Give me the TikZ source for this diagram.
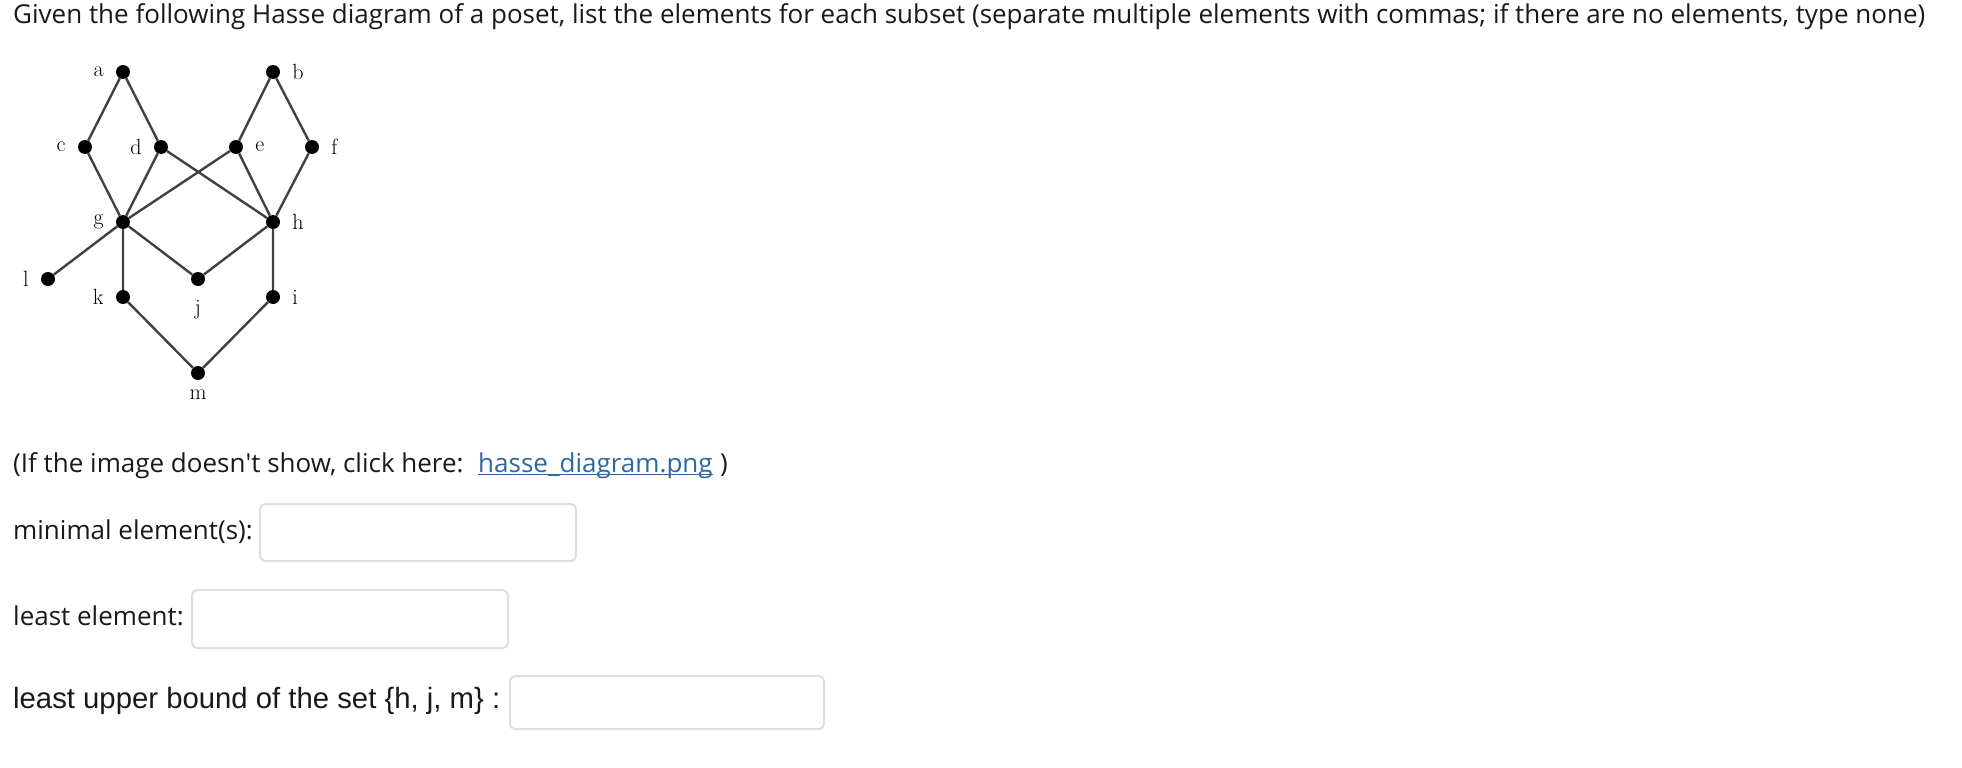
\documentclass[tikz,border=0pt]{standalone}
\usepackage{fontspec}
\setmainfont{Open Sans}
\newfontfamily\arialfont{Liberation Sans}
\definecolor{linkblue}{RGB}{45,105,160}
\definecolor{boxgray}{RGB}{222,222,222}
\definecolor{edgegray}{RGB}{65,65,65}
\definecolor{textblack}{RGB}{25,25,25}
\tikzset{
  vertex/.style={circle,fill=black,inner sep=0pt,minimum size=14pt},
  lbl/.style={font=\fontfamily{lmr}\fontsize{22}{22}\selectfont,inner sep=0pt,label distance=12pt},
  hasseline/.style={edgegray,line width=2.4pt},
  txt/.style={anchor=base west,inner sep=0pt,text=textblack,font=\fontsize{26}{30}\selectfont},
  answerbox/.style={draw=boxgray,line width=2pt,rounded corners=5pt,inner sep=0pt,anchor=north west}
}

\begin{document}
\begin{tikzpicture}[x=1pt,y=-1pt]
\useasboundingbox (0,0) rectangle (1962,768);

% the poset
\node[vertex,label={[lbl]left:a}] (a) at (123,72) {};
\node[vertex,label={[lbl]right:b}] (b) at (273,72) {};
\node[vertex,label={[lbl]left:c}] (c) at (85,147) {};
\node[vertex,label={[lbl]left:d}] (d) at (161,147) {};
\node[vertex,label={[lbl]right:e}] (e) at (236,147) {};
\node[vertex,label={[lbl]right:f}] (f) at (312,147) {};
\node[vertex,label={[lbl]left:g}] (g) at (123,222) {};
\node[vertex,label={[lbl]right:h}] (h) at (273,222) {};
\node[vertex,label={[lbl]left:l}] (l) at (48,279) {};
\node[vertex,label={[lbl,label distance=14pt]below:j}] (j) at (198,279) {};
\node[vertex,label={[lbl,label distance=9pt]below:m}] (m) at (198,373) {};
\node[vertex,label={[lbl]left:k}] (k) at (123,297) {};
\node[vertex,label={[lbl]right:i}] (i) at (273,297) {};

\draw[hasseline] (a)--(c) (a)--(d) (b)--(e) (b)--(f);
\draw[hasseline] (c)--(g) (d)--(g) (e)--(g) (d)--(h) (e)--(h) (f)--(h);
\draw[hasseline] (g)--(l) (g)--(k) (g)--(j) (h)--(j) (h)--(i);
\draw[hasseline] (k)--(m) (i)--(m);

% question text
\node[txt] (title) at (13,24)
  {Given the following Hasse diagram of a poset, list the elements for each subset (separate multiple elements with commas; if there are no elements, type none)};
\node[txt] (hint) at (13,472)
  {(If the image doesn\textquotesingle t show, click here:};
\node[txt,text=linkblue] (link) at (478,472) {hasse\_diagram.png};
\draw[linkblue,line width=1.8pt] ([yshift=-2.5pt]link.base west) -- ([yshift=-2.5pt]link.base east);
\node[txt] (close) at (720,472) {)};

\node[txt] (minlbl) at (13,539) {minimal element(s):};
\node[answerbox,minimum width=316pt,minimum height=57pt] (minbox) at (259,503) {};

\node[txt] (leastlbl) at (13,625) {least element:};
\node[answerbox,minimum width=316pt,minimum height=58pt] (leastbox) at (191,589) {};

\node[txt,font=\arialfont\fontsize{29.3}{33}\selectfont] (lublbl) at (13,708) {least upper bound of the set \{h, j, m\} :};
\node[answerbox,minimum width=314pt,minimum height=53pt] (lubbox) at (509,675) {};
\end{tikzpicture}
\end{document}
